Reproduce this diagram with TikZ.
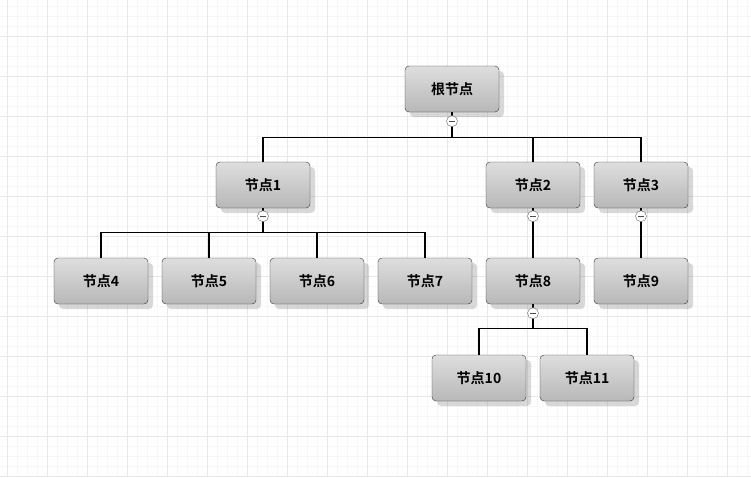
\documentclass[tikz,border=0pt]{standalone}
\usepackage{fontspec}
\newfontfamily\cjk{Noto Sans CJK SC}[BoldFont={Noto Sans CJK SC Bold}]
\usetikzlibrary{shadows}
\tikzset{
  tnode/.style={draw=black!80, rounded corners=4pt, minimum width=94pt, minimum height=46pt,
    top color=black!13, bottom color=black!28, font=\cjk\bfseries\fontsize{14}{14}\selectfont,
    drop shadow={shadow xshift=5pt, shadow yshift=-5pt, opacity=0.25, fill=black!60}},
  conn/.style={draw=black, line width=1.1pt},
  tog/.style={circle, draw=black!60, fill=white, inner sep=0pt, minimum size=11pt,
    path picture={\draw[black!70, line width=0.8pt] ([xshift=-3pt]path picture bounding box.center) -- ([xshift=3pt]path picture bounding box.center);}}
}
\begin{document}
\begin{tikzpicture}[x=1pt,y=-1pt]
\useasboundingbox (0,0) rectangle (751,477);
\fill[white] (0,0) rectangle (751,477);
\foreach \x in {-3,7,...,751} \draw[black!3, line width=0.8pt] (\x,0) -- (\x,477);
\foreach \y in {6,16,...,477} \draw[black!3, line width=0.8pt] (0,\y) -- (751,\y);
\foreach \x in {7,47,...,751} \draw[black!9, line width=0.8pt] (\x,0) -- (\x,477);
\foreach \y in {36,76,...,477} \draw[black!9, line width=0.8pt] (0,\y) -- (751,\y);
% nodes
\node[tnode] (r) at (452,89) {根节点};
\node[tnode] (n1) at (263,185) {节点1};
\node[tnode] (n2) at (533,185) {节点2};
\node[tnode] (n3) at (641,185) {节点3};
\node[tnode] (n4) at (101,281) {节点4};
\node[tnode] (n5) at (209,281) {节点5};
\node[tnode] (n6) at (317,281) {节点6};
\node[tnode] (n7) at (425,281) {节点7};
\node[tnode] (n8) at (533,281) {节点8};
\node[tnode] (n9) at (641,281) {节点9};
\node[tnode] (n10) at (479,378) {节点10};
\node[tnode] (n11) at (587,378) {节点11};
% connectors
\draw[conn] (r.south) -- ++(0,25) coordinate (rb);
\foreach \c in {n1,n2,n3} \draw[conn] (rb) -| (\c.north);
\draw[conn] (n1.south) -- ++(0,24) coordinate (b1);
\foreach \c in {n4,n5,n6,n7} \draw[conn] (b1) -| (\c.north);
\draw[conn] (n2.south) -- (n8.north);
\draw[conn] (n3.south) -- (n9.north);
\draw[conn] (n8.south) -- ++(0,24) coordinate (b8);
\foreach \c in {n10,n11} \draw[conn] (b8) -| (\c.north);
% toggles
\node[tog] (t0) at ([yshift=-9pt]r.south) {};
\node[tog] (t1) at ([yshift=-8pt]n1.south) {};
\node[tog] (t2) at ([yshift=-8pt]n2.south) {};
\node[tog] (t3) at ([yshift=-8pt]n3.south) {};
\node[tog] (t8) at ([yshift=-9pt]n8.south) {};
\end{tikzpicture}
\end{document}
